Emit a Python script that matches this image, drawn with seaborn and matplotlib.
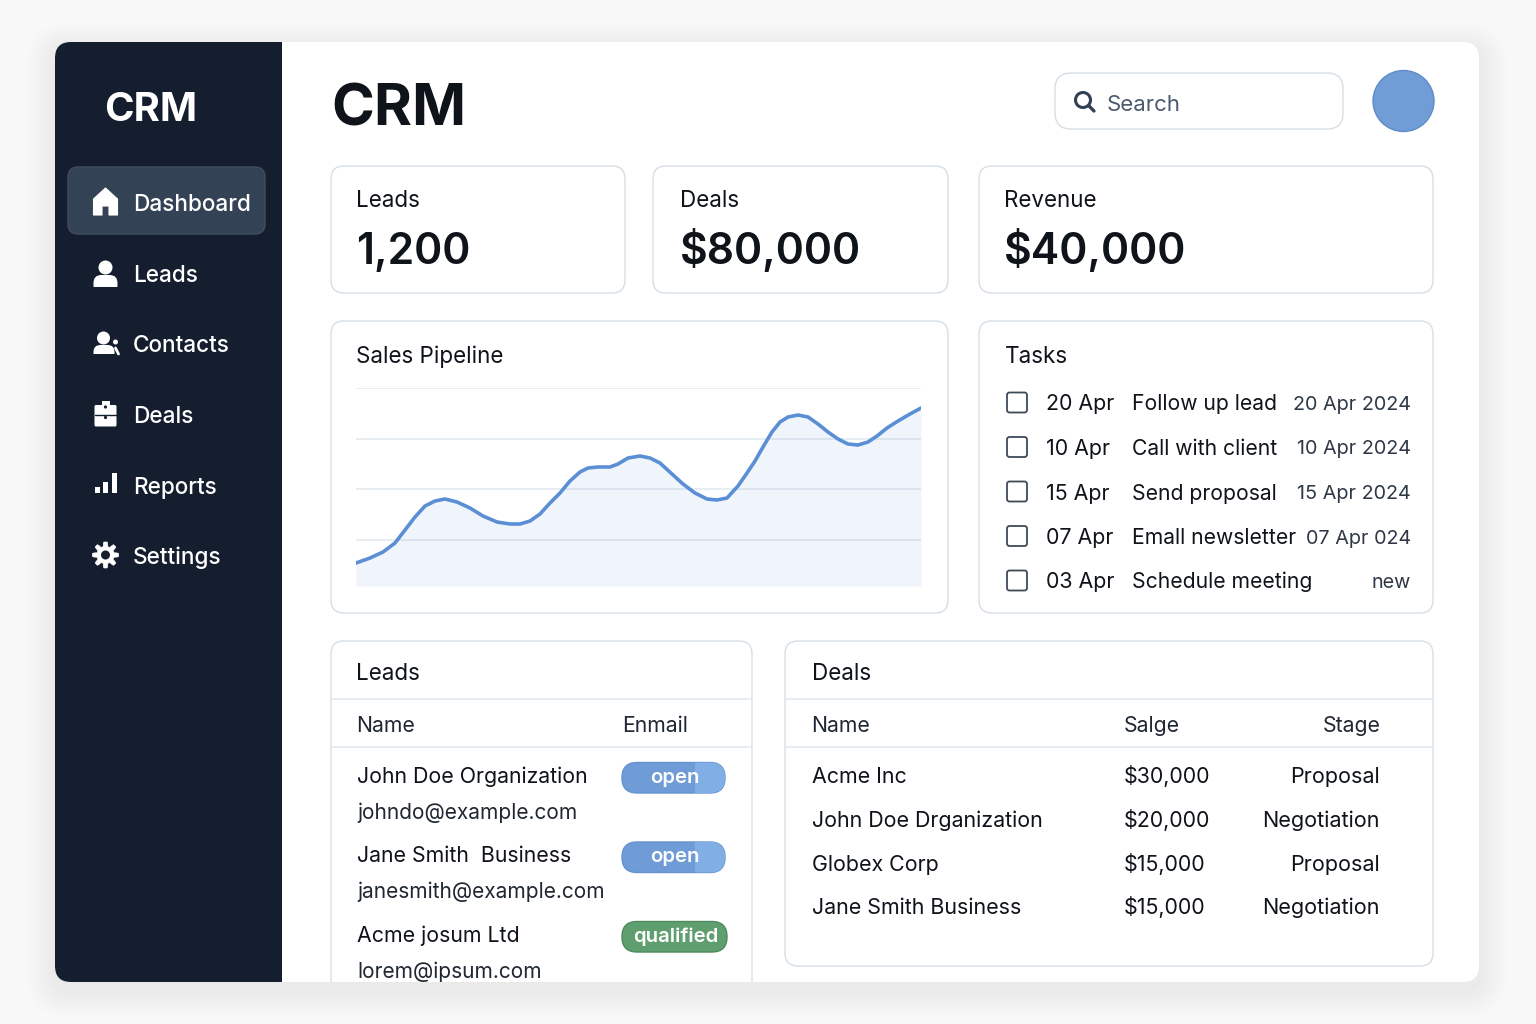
import matplotlib
matplotlib.use("Agg")

import matplotlib.pyplot as plt
import numpy as np
import seaborn as sns
from matplotlib.patches import Circle, FancyBboxPatch, Polygon, Rectangle

nav_labels = ["Dashboard", "Leads", "Contacts", "Deals", "Reports", "Settings"]

kpi_labels = ["Leads", "Deals", "Revenue"]
kpi_values = ["1,200", "$80,000", "$40,000"]

pipeline_x = [0, 14, 27, 39, 49, 59, 69, 79, 89, 101, 114, 127, 141, 154, 164, 174,
              184, 194, 204, 214, 224, 232, 242, 254, 262, 272, 284, 294, 304, 316,
              327, 339, 351, 361, 371, 382, 391, 399, 407, 416, 424, 432, 442, 452,
              462, 472, 482, 492, 502, 512, 521, 531, 542, 554, 565]
pipeline_y = [23, 28, 34, 43, 56, 69, 80, 85, 87, 84, 78, 70, 64, 62, 62, 65,
              72, 83, 93, 105, 114, 118, 119, 119, 122, 128, 130, 128, 123, 112,
              102, 93, 87, 86, 88, 100, 113, 125, 139, 154, 164, 169, 171, 169,
              162, 154, 147, 142, 141, 144, 150, 158, 165, 172, 178]
pipeline_ticks = [46, 97, 147, 198]

task_dates = ["20 Apr", "10 Apr", "15 Apr", "07 Apr", "03 Apr"]
task_names = ["Follow up lead", "Call with client", "Send proposal",
              "Emall newsletter", "Schedule meeting"]
task_due = ["20 Apr 2024", "10 Apr 2024", "15 Apr 2024", "07 Apr 024", "new"]

lead_names = ["John Doe Organization", "Jane Smith  Business", "Acme josum Ltd"]
lead_emails = ["johndo@example.com", "janesmith@example.com", "lorem@ipsum.com"]
lead_status = ["open", "open", "qualified"]

deal_names = ["Acme Inc", "John Doe Drganization", "Globex Corp", "Jane Smith Business"]
deal_sales = ["$30,000", "$20,000", "$15,000", "$15,000"]
deal_stages = ["Proposal", "Negotiation", "Proposal", "Negotiation"]

SIDEBAR = "#141e2e"
BORDER = "#d6dee6"
DIVIDER = "#e2e8ee"
INK = "#0f131a"
BLUE = "#5a8fd6"

sns.set_theme(style="white")
plt.rcParams["font.family"] = ["Inter", "DejaVu Sans"]


def px(size):
    return size * 0.72


def box(ax, x0, y0, x1, y1, r, **kw):
    patch = FancyBboxPatch((x0, y0), x1 - x0, y1 - y0,
                           boxstyle=f"round,pad=0,rounding_size={r}", **kw)
    ax.add_patch(patch)
    return patch


def card(ax, x0, y0, x1, y1, clip=None):
    patch = box(ax, x0, y0, x1, y1, 13, fc="white", ec=BORDER, lw=1.0, zorder=2)
    if clip is not None:
        patch.set_clip_path(clip)
    return patch


def label(ax, x, y, s, size=22, color=INK, **kw):
    kw.setdefault("va", "baseline")
    return ax.text(x, y, s, fontsize=px(size), color=color, zorder=5, **kw)


def draw_icon(ax, name, cx, cy):
    w = "white"
    if name == "Dashboard":
        ax.add_patch(Polygon([(cx - 12, cy - 3), (cx, cy - 14), (cx + 12, cy - 3), (cx + 12, cy + 13),
                              (cx + 3.5, cy + 13), (cx + 3.5, cy + 4), (cx - 3.5, cy + 4), (cx - 3.5, cy + 13),
                              (cx - 12, cy + 13)], fc=w, ec=w, lw=0.8, joinstyle="round", zorder=5))
    elif name == "Leads":
        ax.add_patch(Circle((cx, cy - 5.5), 7, fc=w, ec="none", zorder=5))
        box(ax, cx - 12, cy + 2, cx + 12, cy + 20, 8, fc=w, ec="none", zorder=5)
        ax.add_patch(Rectangle((cx - 13, cy + 14), 26, 8, fc=SIDEBAR, ec="none", zorder=5.5))
    elif name == "Contacts":
        ax.add_patch(Circle((cx - 2, cy - 5), 6.5, fc=w, ec="none", zorder=5))
        box(ax, cx - 12, cy + 2, cx + 9, cy + 18, 7, fc=w, ec="none", zorder=5)
        ax.add_patch(Rectangle((cx - 13, cy + 11), 24, 9, fc=SIDEBAR, ec="none", zorder=5.5))
        ax.add_patch(Circle((cx + 10, cy - 1), 2.5, fc=w, ec="none", zorder=5))
        ax.plot([cx + 10, cx + 13], [cy + 5, cy + 11], color=w, lw=2, zorder=5)
    elif name == "Deals":
        box(ax, cx - 11, cy - 9, cx + 11, cy + 12.5, 1.5, fc=w, ec="none", zorder=5)
        ax.add_patch(Rectangle((cx - 4, cy - 13), 8, 5, fc=w, ec="none", zorder=5))
        ax.plot([cx - 11, cx + 11], [cy + 1, cy + 1], color=SIDEBAR, lw=1, zorder=6)
        ax.add_patch(Circle((cx, cy + 3.5), 1.6, fc=SIDEBAR, ec="none", zorder=6))
        ax.add_patch(Circle((cx, cy - 7), 1.6, fc=SIDEBAR, ec="none", zorder=6))
    elif name == "Reports":
        for left, top in zip([-11, -2.5, 6.5], [2, -3, -12]):
            ax.add_patch(Rectangle((cx + left, cy + top), 5, 8 - top, fc=w, ec="none", zorder=5))
    else:
        ang = np.linspace(0, 2 * np.pi, 96, endpoint=False)
        rad = 10.8 + 2.2 * np.clip(2.2 * np.cos(8 * ang), -1, 1)
        ax.add_patch(Polygon(np.c_[cx + rad * np.cos(ang), cy + rad * np.sin(ang)], fc=w, ec=w,
                             lw=0.5, joinstyle="round", zorder=5))
        ax.add_patch(Circle((cx, cy), 4.5, fc=SIDEBAR, ec="none", zorder=6))


fig = plt.figure(figsize=(15.36, 10.24), dpi=100, facecolor="#f8f8f9")
ax = fig.add_axes([0, 0, 1, 1])
ax.set_xlim(0, 1536)
ax.set_ylim(1024, 0)
ax.axis("off")

# soft shadow under the window
for grow in range(1, 15):
    box(ax, 55 - grow * 2, 42 - grow * 2 + 8, 1479 + grow * 2, 982 + grow * 2 + 8, 16 + grow * 2,
        fc="#3a4656", ec="none", alpha=0.0045, zorder=0)

panel = box(ax, 55, 42, 1479, 982, 16, fc="white", ec="none", zorder=1)

sidebar = Rectangle((55, 42), 227, 940, fc=SIDEBAR, ec="none", zorder=1.5)
ax.add_patch(sidebar)
sidebar.set_clip_path(panel)

label(ax, 104, 121, "CRM", size=40, color="white", weight="bold")
box(ax, 68, 167, 265, 234, 10, fc="#334255", ec="#3f4e61", lw=1, zorder=3)
for name, cy in zip(nav_labels, [202, 273, 343, 414, 485, 555]):
    draw_icon(ax, name, 105.5, cy)
    label(ax, 133, cy + 9, name, size=22.6, color="white", weight="medium")

label(ax, 331, 125, "CRM", size=58, weight="bold")

box(ax, 1055, 73, 1343, 129, 16, fc="white", ec=BORDER, lw=1.0, zorder=2)
ax.add_patch(Circle((1083, 100), 7.5, fc="none", ec="#334155", lw=2.2, zorder=5))
ax.plot([1088.5, 1094], [105.5, 111], color="#334155", lw=2.4, zorder=5)
label(ax, 1107, 111, "Search", size=22.2, color="#4b5a6e")
ax.add_patch(Circle((1403.5, 101), 30.5, fc="#719dd6", ec="#5e8bcb", lw=1, zorder=2))

# kpi row
for (x0, x1, tx), name, value in zip([(331, 625, 356), (653, 948, 680), (979, 1433, 1004)],
                                     kpi_labels, kpi_values):
    card(ax, x0, 166, x1, 293)
    label(ax, tx, 207, name, size=22.4)
    label(ax, tx, 264, value, size=42.6, weight="semibold")

# pipeline card
card(ax, 331, 321, 948, 613)
label(ax, 356.5, 363, "Sales Pipeline", size=22.4)

chart_ax = fig.add_axes([356 / 1536, 1 - 586 / 1024, 565 / 1536, 198 / 1024], zorder=3)
chart_ax.patch.set_alpha(0)
chart_ax.fill_between(pipeline_x, pipeline_y, color=BLUE, alpha=0.09, lw=0)
sns.lineplot(x=pipeline_x, y=pipeline_y, color=BLUE, linewidth=2.6, solid_joinstyle="round", ax=chart_ax)
chart_ax.set_xlim(0, 565)
chart_ax.set_ylim(0, 198)
chart_ax.set_yticks(pipeline_ticks)
chart_ax.set_xticks([])
chart_ax.grid(axis="y", color=DIVIDER, lw=1.1)
chart_ax.set_axisbelow(True)
chart_ax.tick_params(left=False, labelleft=False)
sns.despine(ax=chart_ax, left=True, bottom=True)

# tasks card
card(ax, 979, 321, 1433, 613)
label(ax, 1004.5, 363, "Tasks", size=22.4)
for i in range(len(task_names)):
    cy = 402.5 + i * 44.5
    box(ax, 1007, cy - 10, 1027, cy + 10, 2.5, fc="white", ec="#3f4a59", lw=1.3, zorder=4)
    label(ax, 1045.5, cy + 8, task_dates[i], size=21.4)
    label(ax, 1131.5, cy + 8, task_names[i], size=21.1)
    label(ax, 1411, cy + 7.5, task_due[i], size=19.8, color="#2f3846", ha="right")

# leads table, runs off the bottom of the window
card(ax, 331, 641, 752, 1040, clip=panel)
label(ax, 356.5, 680, "Leads", size=22.4)
ax.plot([331, 752], [699, 699], color=DIVIDER, lw=1.1, zorder=3)
ax.plot([331, 752], [747, 747], color=DIVIDER, lw=1.1, zorder=3)
label(ax, 356, 732, "Name", size=21.2, color="#1f2733")
label(ax, 622.5, 732, "Enmail", size=21.2, color="#1f2733")
for i in range(len(lead_names)):
    top = 775 + i * 79.5
    label(ax, 357, top + 8, lead_names[i], size=21.3)
    label(ax, 357, top + 44, lead_emails[i], size=20.9, color="#1f2733")
    fill = "#5f9e6e" if lead_status[i] == "qualified" else "#6f9bd6"
    edge = "#4f8a5e" if lead_status[i] == "qualified" else "#6593d0"
    x1 = 727 if lead_status[i] == "qualified" else 725
    badge = box(ax, 622, top - 12.5, x1, top + 18, 15, fc=fill, ec=edge, lw=1, zorder=3)
    if lead_status[i] == "open":
        shine = Rectangle((695, top - 14), 32, 33, fc="#82aee6", ec="none", zorder=3.5)
        ax.add_patch(shine)
        shine.set_clip_path(badge)
    label(ax, (622 + x1) / 2 + 1, top + 8, lead_status[i], size=20.3, color="white", weight="semibold", ha="center")

# deals table
card(ax, 785, 641, 1433, 966)
label(ax, 812, 680, "Deals", size=22.4)
ax.plot([785, 1433], [699, 699], color=DIVIDER, lw=1.1, zorder=3)
ax.plot([785, 1433], [747, 747], color=DIVIDER, lw=1.1, zorder=3)
label(ax, 811.5, 732, "Name", size=21.2, color="#1f2733")
label(ax, 1124, 732, "Salge", size=21.2, color="#1f2733")
label(ax, 1381, 732, "Stage", size=21.2, color="#1f2733", ha="right")
for i in range(len(deal_names)):
    cy = 774.5 + i * 43.8
    label(ax, 812.5, cy + 8.5, deal_names[i], size=21.4)
    label(ax, 1124, cy + 8.5, deal_sales[i], size=21.4)
    label(ax, 1379.5, cy + 8.5, deal_stages[i], size=21.6, ha="right")

fig.savefig("out.png", dpi=100, facecolor=fig.get_facecolor())
